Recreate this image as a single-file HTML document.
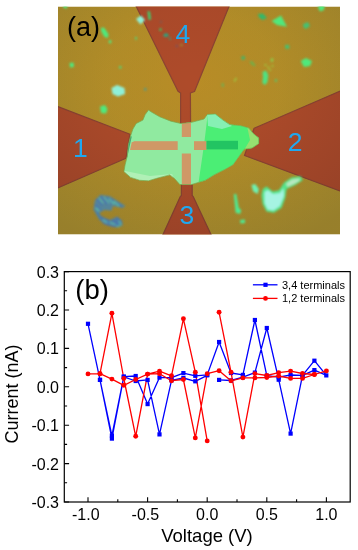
<!DOCTYPE html>
<html lang="en">
<head>
<meta charset="utf-8">
<title>Figure</title>
<style>
html,body{margin:0;padding:0;background:#fff;}
body{width:358px;height:550px;overflow:hidden;position:relative;font-family:"Liberation Sans",Arial,sans-serif;}
svg{position:absolute;left:0;top:0;display:block;}
text{font-family:"Liberation Sans",Arial,sans-serif;}
</style>
</head>
<body>
<svg width="358" height="550" viewBox="0 0 358 550">
<defs>
<radialGradient id="bg" cx="0.48" cy="0.33" r="0.75">
<stop offset="0" stop-color="#b88c26"/>
<stop offset="0.5" stop-color="#b49029"/>
<stop offset="1" stop-color="#b0962f"/>
</radialGradient>
<radialGradient id="vg" cx="0.48" cy="0.33" r="0.78"><stop offset="0" stop-color="#201018" stop-opacity="0"/><stop offset="0.4" stop-color="#201018" stop-opacity="0.03"/><stop offset="1" stop-color="#201018" stop-opacity="0.17"/></radialGradient>
<filter id="b1" x="-5%" y="-5%" width="110%" height="110%"><feGaussianBlur stdDeviation="0.7"/></filter>
<filter id="b2" x="-20%" y="-20%" width="140%" height="140%"><feGaussianBlur stdDeviation="1.1"/></filter>
<clipPath id="pc"><rect x="58" y="6.5" width="282" height="228"/></clipPath>
<clipPath id="fc"><path id="flakep" d="M148.5,110.1 L151.9,112.3 L159.7,116.8 L170.9,121.2 L180.9,123.5 L191.7,122.3 L204,119 L207.3,114.5 L215.2,113.9 L223,120.1 L229.7,124.6 L240.9,125.7 L248.7,127.9 L253.2,133.5 L258.7,138 L258.7,143.6 L252,148 L244.2,149.2 L238.6,157 L233,164.8 L225.2,169.3 L214,174.9 L205.1,180.4 L191.7,184.5 L179.8,184.5 L174.2,178.2 L169.7,174.9 L157.5,178.1 L148.5,180.8 L139.6,180.3 L130.6,177.4 L123.9,171.5 L125.1,164.8 L127.3,155.9 L128.4,144.7 L130.6,135.8 L132.9,129.1 L136.2,123.5 L142.9,120.1 L145.2,114.5 Z"/></clipPath>
</defs>

<g clip-path="url(#pc)">
<rect x="58" y="6.5" width="282" height="228" fill="url(#bg)"/>
<g filter="url(#b1)">
<path d="M135.5,5 L178,91.3 L180.6,93 L180.6,125 L190.6,125 L190.4,93 L194.5,91.5 L229.6,5 Z" fill="#ae4b2a" stroke="#8c4432" stroke-width="1.2" stroke-linejoin="round"/>
<path d="M181.4,180 L181.4,195.5 L180.2,196.7 L162.3,236 L211.7,236 L193.3,196.7 L192.2,195.5 L192.2,180 Z" fill="#ae4b2a" stroke="#8c4432" stroke-width="1.2" stroke-linejoin="round"/>
<path d="M56,105.9 L130,134.2 L126,158.2 L56,188.8 Z" fill="#ae4b2a" stroke="#8c4432" stroke-width="1.2" stroke-linejoin="round"/>
<path d="M342,90.2 L254.1,128.2 L244.5,155.5 L342,191.7 Z" fill="#ae4b2a" stroke="#8c4432" stroke-width="1.2" stroke-linejoin="round"/>
</g>
<rect x="58" y="6.5" width="282" height="228" fill="url(#vg)"/>
<g filter="url(#b2)">
<polygon points="100.7,28 104,27.5 108.5,34 108,38 104.5,37 101.5,32" fill="#4fe87c"/>
<polygon points="109,40 111.5,40.5 111,43.5 108.7,43" fill="#4fe87c"/>
<polygon points="63,5 67.5,5 67,8.5 63.5,8" fill="#4fe87c"/>
<polygon points="136,19 141,15.5 145,20 140.5,24.5" fill="#8ff0d8"/>
<polygon points="147.5,11 150,11.5 151,19.5 148.5,20" fill="#3ecf6e"/>
<polygon points="69.5,63 73.5,62.5 74,67 70,67.5" fill="#4fe87c"/>
<polygon points="111.5,88 117,85 124.5,88 125,94 118,96.5 112.5,94" fill="#8ff0d8"/>
<polygon points="100,106.5 105,105 107.5,109 106,113.5 101,113" fill="#4fe87c"/>
<polygon points="119,66 121.5,66 121.5,68.5 119,68.5" fill="#58d070"/>
<polygon points="144,88 146.5,88 146.5,90.5 144,90.5" fill="#5a9a80"/>
<polygon points="135,37 137,37 137,39.5 135,39.5" fill="#58d070"/>
<polygon points="271.6,21 281,15.6 287,26.8 277,25" fill="#4fe87c"/>
<polygon points="258,14 263,13.4 267,18 262.5,20 259,17.5" fill="#35b868"/>
<polygon points="303,24 308,22 310,26 306,29 303.5,27.5" fill="#46c070"/>
<polygon points="300.7,61 306,58 312,61 310,66 304,67" fill="#4fe87c"/>
<polygon points="318,4 325,4 324,10 320,11.5 318.5,9" fill="#4fe87c"/>
<polygon points="285,45 289,44.7 289.5,48.5 285.5,49" fill="#46c070"/>
<polygon points="262.5,72 266,70.5 268.3,75 267.5,82 265,85 262.3,83 263,77" fill="#4fe080"/>
<polygon points="271,58 273.5,58.5 273,62 270.5,61.5" fill="#8fc848"/>
<polygon points="275,79 277.3,79.5 276.8,82 274.6,81.5" fill="#5fc060"/>
<polygon points="241,56.5 244.5,55.7 245.4,59 242,60.3" fill="#4fb060"/>
<polygon points="249.5,61.5 252,61 254.5,64 256,66 253.5,66 251,64" fill="#6fb048"/>
<polygon points="221.5,83.5 223.5,83 224,86.5 222,87" fill="#6fb050"/>
<polygon points="262.7,188.9 266.5,186.4 272.8,191.4 279,190.2 284.1,182.6 291.6,177.6 300.4,176.3 302.9,180.1 295.4,185.1 286.6,188.9 285.3,197.7 281.6,207.8 274,212.8 266.5,211.5 262.7,204 261.5,195.2" fill="#52e48a"/>
<polygon points="251.4,185.1 255.2,183.9 258.9,188.9 257.7,193.9 253.2,191.4" fill="#6df0b0"/>
<polygon points="233.8,193.9 236.3,193.9 238.8,207.8 241.3,210.3 240.1,214 235.6,212.8" fill="#4fe890"/>
<polygon points="240,220 245,219.5 245,223 240.5,223.5" fill="#4fe890"/>
<circle cx="265.5" cy="65" r="1.0" fill="#9ad040"/>
<circle cx="268.5" cy="67.5" r="1.0" fill="#9ad040"/>
<circle cx="272.5" cy="66" r="0.9" fill="#9ad040"/>
<circle cx="270" cy="70" r="0.9" fill="#9ad040"/>
<circle cx="234.7" cy="80.4" r="1.0" fill="#9ad040"/>
<circle cx="236" cy="78.7" r="0.9" fill="#9ad040"/>
<polygon points="264.5,192 268,190 273,194 280,193 283.5,188 284,196 280,206 273.5,210.5 267.5,209.5 264.5,203" fill="#a6f4e2"/>
<polygon points="286,183.5 292,179.5 299,178.5 300,180.5 294,184 287.5,187" fill="#b8e8c0"/>
<ellipse cx="160.5" cy="29.5" rx="1.3" ry="1.5" fill="#3fbf60"/>
<ellipse cx="166" cy="35.2" rx="2.6" ry="1.9" fill="#2fa07c"/>
<ellipse cx="170" cy="38.5" rx="1.0" ry="1.2" fill="#3a9a70"/>
<ellipse cx="176.8" cy="46" rx="1.0" ry="1.0" fill="#6a5a70"/>
<ellipse cx="181.4" cy="45.2" rx="1.1" ry="1.1" fill="#9a9a30"/>
<ellipse cx="161" cy="22" rx="0.8" ry="1.2" fill="#705a60"/>
</g>
<g filter="url(#b2)">
<polygon points="94.8,200.4 100.4,194.8 110.1,196.2 125.5,206 122.7,208 112.9,206 111.5,210.8 104.6,210.1 99,212.9 93.4,210.1" fill="#55849a"/>
<polygon points="99,215 104.6,217.8 110.1,219.9 117.1,216.4 122,220.6 122.7,225.5 117.1,227.6 110.1,226.2 103.2,223.4 99,219.2" fill="#507e9e"/>
<polygon points="93.4,209 99,212 101,216.5 99.5,220 96,214" fill="#4a80a8"/>
<g fill="none" stroke-linecap="round">
<path d="M97,199 l5,6 M101,197 l6,7 M106,197.5 l6,6 M111,199.5 l6,5 M116,202.5 l5,4 M95.5,205 l5,5" stroke="#4672b4" stroke-width="1.4"/>
<path d="M99,198 l4,5 M104,197 l5,6 M109,199 l5,5 M114,201.5 l5,4.5 M96,208 l3,3" stroke="#62c8a0" stroke-width="1.1"/>
<path d="M101,217 l5,4 M106,220 l6,3.5 M113,221 l6,3 M117,218 l4,5 M104,223 l5,2 M112,225.5 l6,0.5" stroke="#4672b4" stroke-width="1.4"/>
<path d="M103,220 l4,2.5 M110,222.5 l5,2 M119,221 l2,4 M116.5,226 l3,0.3" stroke="#62c8a0" stroke-width="1.1"/>
</g>
</g>
<g filter="url(#b1)">
<use href="#flakep" fill="#90eaa0"/>
<g clip-path="url(#fc)">
<path d="M209.5,100 L270,100 L270,200 L196,200 L204,145 Z" fill="#4cee74"/>
<path d="M207,112 L217,112 L232,126 L222,129 L208,126 Z" fill="#86f0b4"/>
<path d="M247,126 L262,134 L262,150 L243,152 L250,140 Z" fill="#96e070"/>
<path d="M120,170 L150,176 L172,174 L176,182 L120,184 Z" fill="#b0f0b6"/>
<rect x="133.5" y="141.2" width="44.2" height="8.8" fill="#cf9866"/>
<path d="M129.2,136 L131.8,136.5 L127.2,157.5 L125,157 Z" fill="#3fa878"/><path d="M131.8,141.9 L134,141.9 L134,150.1 L130,150.1 Z" fill="#cf9866"/>
<rect x="194" y="141.2" width="12.5" height="8.8" fill="#cf9866"/>
<rect x="206.5" y="140.8" width="31.5" height="8.6" fill="#22c462"/>
<rect x="181.8" y="118" width="9.2" height="19" fill="#cf9866"/>
<rect x="181.8" y="153.5" width="9.2" height="33" fill="#cf9866"/>
</g>
<use href="#flakep" fill="none" stroke="#7aa84a" stroke-width="1" opacity="0.7"/>
</g>
</g>
<text x="67" y="36.2" font-size="27" fill="#000">(a)</text>
<text x="175.6" y="43.4" font-size="26.5" fill="#1fa8f0">4</text>
<text x="73" y="157" font-size="26.5" fill="#1fa8f0">1</text>
<text x="287.7" y="151.3" font-size="26.5" fill="#1fa8f0">2</text>
<text x="179.4" y="224.2" font-size="26.5" fill="#1fa8f0">3</text>
<g>
<polyline points="219.1,379.9 231.0,380.5 242.9,377.2 254.9,372.6 266.8,328.0 278.7,379.7 290.6,433.6 302.5,375.4 314.4,360.7 326.4,375.4 314.4,370.1 302.5,375.3 290.6,375.0 278.7,377.2 266.8,375.7 254.9,320.0 242.9,374.9 231.0,373.0 219.1,342.0 207.2,374.9 195.3,375.8 183.4,373.1 171.5,377.6 159.5,377.6 147.6,404.1 135.7,376.0 123.8,376.6 111.9,435.6 100.0,379.9 88.0,323.8 100.0,379.9 111.9,438.6 123.8,376.8 135.7,381.0 147.6,379.9 159.5,434.4 171.5,380.3 183.4,378.0 195.3,381.3 207.2,375.3" fill="none" stroke="#0000ff" stroke-width="1.3" stroke-linejoin="round"/>
<polyline points="219.1,312.3 231.0,372.2 242.9,437.1 254.9,373.6 266.8,375.5 278.7,372.6 290.6,371.1 302.5,373.5 314.4,374.5 326.4,370.9 314.4,374.5 302.5,378.4 290.6,378.4 278.7,376.0 266.8,377.5 254.9,377.9 242.9,377.9 231.0,380.8 219.1,370.7 207.2,373.7 195.3,437.9 183.4,379.5 171.5,380.7 159.5,373.7 147.6,374.1 135.7,379.5 123.8,385.3 111.9,379.1 100.0,373.7 88.0,373.9 100.0,373.7 111.9,313.3 123.8,378.5 135.7,436.3 147.6,374.1 159.5,371.2 171.5,375.8 183.4,318.8 195.3,372.2 207.2,440.9" fill="none" stroke="#ff0000" stroke-width="1.3" stroke-linejoin="round"/>
<rect x="217.0" y="377.8" width="4.2" height="4.2" fill="#0000ff"/>
<rect x="228.9" y="378.4" width="4.2" height="4.2" fill="#0000ff"/>
<rect x="240.8" y="375.1" width="4.2" height="4.2" fill="#0000ff"/>
<rect x="252.8" y="370.5" width="4.2" height="4.2" fill="#0000ff"/>
<rect x="264.7" y="325.9" width="4.2" height="4.2" fill="#0000ff"/>
<rect x="276.6" y="377.6" width="4.2" height="4.2" fill="#0000ff"/>
<rect x="288.5" y="431.5" width="4.2" height="4.2" fill="#0000ff"/>
<rect x="300.4" y="373.3" width="4.2" height="4.2" fill="#0000ff"/>
<rect x="312.3" y="358.6" width="4.2" height="4.2" fill="#0000ff"/>
<rect x="324.2" y="373.3" width="4.2" height="4.2" fill="#0000ff"/>
<rect x="312.3" y="368.0" width="4.2" height="4.2" fill="#0000ff"/>
<rect x="300.4" y="373.2" width="4.2" height="4.2" fill="#0000ff"/>
<rect x="288.5" y="372.9" width="4.2" height="4.2" fill="#0000ff"/>
<rect x="276.6" y="375.1" width="4.2" height="4.2" fill="#0000ff"/>
<rect x="264.7" y="373.6" width="4.2" height="4.2" fill="#0000ff"/>
<rect x="252.8" y="317.9" width="4.2" height="4.2" fill="#0000ff"/>
<rect x="240.8" y="372.8" width="4.2" height="4.2" fill="#0000ff"/>
<rect x="228.9" y="370.9" width="4.2" height="4.2" fill="#0000ff"/>
<rect x="217.0" y="339.9" width="4.2" height="4.2" fill="#0000ff"/>
<rect x="205.1" y="372.8" width="4.2" height="4.2" fill="#0000ff"/>
<rect x="193.2" y="373.7" width="4.2" height="4.2" fill="#0000ff"/>
<rect x="181.3" y="371.0" width="4.2" height="4.2" fill="#0000ff"/>
<rect x="169.4" y="375.5" width="4.2" height="4.2" fill="#0000ff"/>
<rect x="157.4" y="375.5" width="4.2" height="4.2" fill="#0000ff"/>
<rect x="145.5" y="402.0" width="4.2" height="4.2" fill="#0000ff"/>
<rect x="133.6" y="373.9" width="4.2" height="4.2" fill="#0000ff"/>
<rect x="121.7" y="374.5" width="4.2" height="4.2" fill="#0000ff"/>
<rect x="109.8" y="433.5" width="4.2" height="4.2" fill="#0000ff"/>
<rect x="97.9" y="377.8" width="4.2" height="4.2" fill="#0000ff"/>
<rect x="85.9" y="321.7" width="4.2" height="4.2" fill="#0000ff"/>
<rect x="97.9" y="377.8" width="4.2" height="4.2" fill="#0000ff"/>
<rect x="109.8" y="436.5" width="4.2" height="4.2" fill="#0000ff"/>
<rect x="121.7" y="374.7" width="4.2" height="4.2" fill="#0000ff"/>
<rect x="133.6" y="378.9" width="4.2" height="4.2" fill="#0000ff"/>
<rect x="145.5" y="377.8" width="4.2" height="4.2" fill="#0000ff"/>
<rect x="157.4" y="432.3" width="4.2" height="4.2" fill="#0000ff"/>
<rect x="169.4" y="378.2" width="4.2" height="4.2" fill="#0000ff"/>
<rect x="181.3" y="375.9" width="4.2" height="4.2" fill="#0000ff"/>
<rect x="193.2" y="379.2" width="4.2" height="4.2" fill="#0000ff"/>
<rect x="205.1" y="373.2" width="4.2" height="4.2" fill="#0000ff"/>
<circle cx="219.1" cy="312.3" r="2.45" fill="#ff0000"/>
<circle cx="231.0" cy="372.2" r="2.45" fill="#ff0000"/>
<circle cx="242.9" cy="437.1" r="2.45" fill="#ff0000"/>
<circle cx="254.9" cy="373.6" r="2.45" fill="#ff0000"/>
<circle cx="266.8" cy="375.5" r="2.45" fill="#ff0000"/>
<circle cx="278.7" cy="372.6" r="2.45" fill="#ff0000"/>
<circle cx="290.6" cy="371.1" r="2.45" fill="#ff0000"/>
<circle cx="302.5" cy="373.5" r="2.45" fill="#ff0000"/>
<circle cx="314.4" cy="374.5" r="2.45" fill="#ff0000"/>
<circle cx="326.4" cy="370.9" r="2.45" fill="#ff0000"/>
<circle cx="314.4" cy="374.5" r="2.45" fill="#ff0000"/>
<circle cx="302.5" cy="378.4" r="2.45" fill="#ff0000"/>
<circle cx="290.6" cy="378.4" r="2.45" fill="#ff0000"/>
<circle cx="278.7" cy="376.0" r="2.45" fill="#ff0000"/>
<circle cx="266.8" cy="377.5" r="2.45" fill="#ff0000"/>
<circle cx="254.9" cy="377.9" r="2.45" fill="#ff0000"/>
<circle cx="242.9" cy="377.9" r="2.45" fill="#ff0000"/>
<circle cx="231.0" cy="380.8" r="2.45" fill="#ff0000"/>
<circle cx="219.1" cy="370.7" r="2.45" fill="#ff0000"/>
<circle cx="207.2" cy="373.7" r="2.45" fill="#ff0000"/>
<circle cx="195.3" cy="437.9" r="2.45" fill="#ff0000"/>
<circle cx="183.4" cy="379.5" r="2.45" fill="#ff0000"/>
<circle cx="171.5" cy="380.7" r="2.45" fill="#ff0000"/>
<circle cx="159.5" cy="373.7" r="2.45" fill="#ff0000"/>
<circle cx="147.6" cy="374.1" r="2.45" fill="#ff0000"/>
<circle cx="135.7" cy="379.5" r="2.45" fill="#ff0000"/>
<circle cx="123.8" cy="385.3" r="2.45" fill="#ff0000"/>
<circle cx="111.9" cy="379.1" r="2.45" fill="#ff0000"/>
<circle cx="100.0" cy="373.7" r="2.45" fill="#ff0000"/>
<circle cx="88.0" cy="373.9" r="2.45" fill="#ff0000"/>
<circle cx="100.0" cy="373.7" r="2.45" fill="#ff0000"/>
<circle cx="111.9" cy="313.3" r="2.45" fill="#ff0000"/>
<circle cx="123.8" cy="378.5" r="2.45" fill="#ff0000"/>
<circle cx="135.7" cy="436.3" r="2.45" fill="#ff0000"/>
<circle cx="147.6" cy="374.1" r="2.45" fill="#ff0000"/>
<circle cx="159.5" cy="371.2" r="2.45" fill="#ff0000"/>
<circle cx="171.5" cy="375.8" r="2.45" fill="#ff0000"/>
<circle cx="183.4" cy="318.8" r="2.45" fill="#ff0000"/>
<circle cx="195.3" cy="372.2" r="2.45" fill="#ff0000"/>
<circle cx="207.2" cy="440.9" r="2.45" fill="#ff0000"/>
<rect x="64.3" y="271.6" width="285.9" height="230.4" fill="none" stroke="#000" stroke-width="1.2"/>
<path d="M88.0,502.0 v-4.8 M117.8,502.0 v-2.8 M147.6,502.0 v-4.8 M177.4,502.0 v-2.8 M207.2,502.0 v-4.8 M237.0,502.0 v-2.8 M266.8,502.0 v-4.8 M296.6,502.0 v-2.8 M326.4,502.0 v-4.8 M64.3,502.0 h4.8 M64.3,482.8 h2.8 M64.3,463.6 h4.8 M64.3,444.4 h2.8 M64.3,425.2 h4.8 M64.3,406.0 h2.8 M64.3,386.8 h4.8 M64.3,367.6 h2.8 M64.3,348.4 h4.8 M64.3,329.2 h2.8 M64.3,310.0 h4.8 M64.3,290.8 h2.8 M64.3,271.6 h4.8" stroke="#000" stroke-width="1.1" fill="none"/>
<text x="85.8" y="520" font-size="16" text-anchor="middle" fill="#000">-1.0</text>
<text x="145.4" y="520" font-size="16" text-anchor="middle" fill="#000">-0.5</text>
<text x="207.2" y="520" font-size="16" text-anchor="middle" fill="#000">0.0</text>
<text x="266.8" y="520" font-size="16" text-anchor="middle" fill="#000">0.5</text>
<text x="326.4" y="520" font-size="16" text-anchor="middle" fill="#000">1.0</text>
<text x="59" y="507.9" font-size="16" text-anchor="end" fill="#000">-0.3</text>
<text x="59" y="469.5" font-size="16" text-anchor="end" fill="#000">-0.2</text>
<text x="59" y="431.1" font-size="16" text-anchor="end" fill="#000">-0.1</text>
<text x="59" y="392.7" font-size="16" text-anchor="end" fill="#000">0.0</text>
<text x="59" y="354.3" font-size="16" text-anchor="end" fill="#000">0.1</text>
<text x="59" y="315.9" font-size="16" text-anchor="end" fill="#000">0.2</text>
<text x="59" y="277.5" font-size="16" text-anchor="end" fill="#000">0.3</text>
<text x="207" y="541.8" font-size="18.5" text-anchor="middle" fill="#000">Voltage (V)</text>
<text transform="translate(17.6,394) rotate(-90)" font-size="18" text-anchor="middle" fill="#000">Current (nA)</text>
<text x="75.3" y="298.8" font-size="27.5" fill="#000">(b)</text>
<path d="M252.9,284.8 H277.5" stroke="#0000ff" stroke-width="1.3"/>
<rect x="263.4" y="282.7" width="4.2" height="4.2" fill="#0000ff"/>
<path d="M252.9,298.4 H277.5" stroke="#ff0000" stroke-width="1.3"/>
<circle cx="265.5" cy="298.4" r="2.4" fill="#ff0000"/>
<text x="282" y="288.5" font-size="11" fill="#000">3,4 terminals</text>
<text x="282" y="302" font-size="11" fill="#000">1,2 terminals</text>
</g>
</svg>
</body>
</html>
